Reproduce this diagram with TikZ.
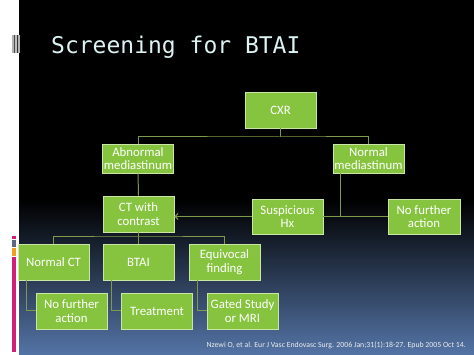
\documentclass[tikz,border=0pt]{standalone}
\usepackage{fontspec}
\setmainfont{Carlito}
\newfontfamily\titlefont{DejaVu Sans Mono}
\usetikzlibrary{arrows.meta}
\definecolor{boxgreen}{HTML}{86C43F}
\definecolor{boxedge}{HTML}{C9E6A6}
\definecolor{linkcol}{HTML}{7D9B4A}
\definecolor{titlecol}{HTML}{DDF2F2}
\definecolor{bgblue}{HTML}{5474A6}
\definecolor{barmag}{HTML}{D0207A}
\definecolor{barorange}{HTML}{F0A020}
\definecolor{bargray}{HTML}{5A6A86}
\tikzset{
  box/.style={draw=boxedge, line width=0.8pt, fill=boxgreen, text=white,
    minimum width=71pt, minimum height=36pt, inner sep=1pt, align=center,
    font=\fontsize{12.8}{13.5}\selectfont},
  link/.style={draw=linkcol, line width=1pt},
}
\begin{document}
\begin{tikzpicture}[x=1pt,y=-1pt]
\useasboundingbox (0,0) rectangle (474,355);
% background
\fill[white] (0,0) rectangle (19,355);
\fill[black] (19,0) rectangle (474,355);
\shade[top color=black, bottom color=bgblue] (19,200) rectangle (474,355);
% left decorations
\foreach \xx/\cc in {12/gray!60,13.5/black!70,15/gray!50,16.5/black!80,18/gray!60}
  \fill[\cc] (\xx,35) rectangle ++(1.5,18);
\fill[barmag] (12,236) rectangle (15.5,239.5);
\fill[bargray] (12,240.5) rectangle (15.5,247);
\fill[barorange] (12,248) rectangle (15.5,256);
\fill[barmag] (12,257) rectangle (15.5,352);
% title
\node[anchor=base west, inner sep=0, text=titlecol, font=\titlefont\fontsize{23}{26}\selectfont] (title) at (51,54) {Screening for BTAI};
% boxes
\node[box] (cxr) at (280.5,110) {CXR};
\node[box, minimum height=29pt] (abn) at (138,158.5) {Abnormal\\mediastinum};
\node[box, minimum height=29pt] (nrm) at (368.5,158.5) {Normal\\mediastinum};
\node[box] (ct) at (138.5,214) {CT with\\contrast};
\node[box, minimum height=35pt] (susp) at (287.5,216.5) {Suspicious\\Hx};
\node[box, minimum height=35pt, minimum width=72pt] (nfa) at (424,216.5) {No further\\action};
\node[box] (nct) at (53.5,262) {Normal CT};
\node[box] (bt) at (138.5,262) {BTAI};
\node[box] (eq) at (224.5,262) {Equivocal\\finding};
\node[box] (nfb) at (71.5,311) {No further\\action};
\node[box] (trt) at (157,311) {Treatment};
\node[box] (gat) at (242.5,311) {Gated Study\\or MRI};
% connectors
\coordinate (j1) at (280.5,137);
\coordinate (j2) at (340,217);
\coordinate (j3) at (138.5,237);
\draw[link] (cxr.south) -- (j1);
\draw[link] (abn.north) |- (j1) -| (nrm.north);
\draw[link] (abn.south) -- (ct.north);
\draw[link] ([xshift=-28.5pt]nrm.south) -- (j2);
\draw[link] (susp.east) -- (nfa.west);
\draw[link, -{Straight Barb[length=3pt,width=6pt]}] (susp.west) -- (susp.west -| ct.east);
\draw[link] (ct.south) -- (bt.north);
\draw[link] (nct.north) |- (j3) -| (eq.north);
\draw[link] ([xshift=-27.5pt]nct.south) |- (nfb.west);
\draw[link] ([xshift=-27.5pt]bt.south) |- (trt.west);
\draw[link] ([xshift=-27.5pt]eq.south) |- (gat.west);
% citation
\node[anchor=base east, inner sep=0, text=white!85!gray, font=\fontsize{7.8}{9}\selectfont] (cite) at (466,348) {Nzewi O, et al. Eur J Vasc Endovasc Surg. 2006 Jan;31(1):18-27. Epub 2005 Oct 14.};
\end{tikzpicture}
\end{document}
